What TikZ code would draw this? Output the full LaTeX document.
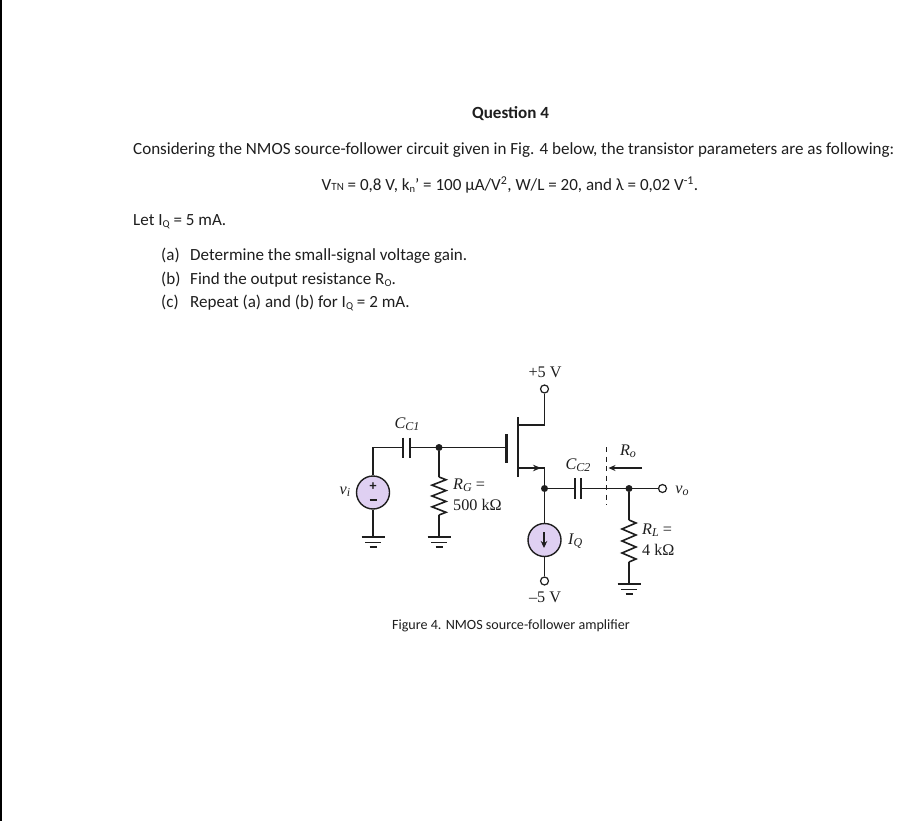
\documentclass[tikz,border=0pt]{standalone}
\usepackage{fontspec}
\setmainfont{Carlito}
\newfontfamily\ser{Liberation Serif}
\usetikzlibrary{arrows.meta}
\newcommand{\lowsub}[1]{\raisebox{-0.3ex}{\fontsize{10.5}{10.5}\selectfont #1}}
\newcommand{\smallcap}[1]{{\fontsize{11}{11}\selectfont #1}}
\newcommand{\ckit}[2]{{\ser\itshape #1\raisebox{-0.3ex}{\fontsize{12}{12}\selectfont #2}}}
\definecolor{ink}{HTML}{1E1E1E}
\definecolor{srcfill}{HTML}{DFD0F2}
\tikzset{
  txt/.style={anchor=base west,inner sep=0pt,text=ink,font=\fontsize{17.05}{20}\selectfont},
  ctxt/.style={anchor=base,inner sep=0pt,text=ink,font=\fontsize{17.05}{20}\selectfont},
  figcaption/.style={anchor=base,inner sep=0pt,text=ink,font=\fontsize{14.1}{17}\selectfont},
  clab/.style={inner sep=0pt,text=ink,font=\ser\fontsize{16.2}{19}\selectfont},
  wire/.style={draw=ink,line width=1.5pt},
  plate/.style={draw=ink,line width=2.1pt},
  res/.style={draw=ink,line width=1.6pt,line join=miter},
  dot/.style={circle,fill=ink,inner sep=0pt,minimum size=7pt},
  term/.style={circle,draw=ink,fill=white,line width=1.2pt,inner sep=0pt,minimum size=8pt},
  src/.style={circle,draw=ink,fill=srcfill,line width=1.4pt,inner sep=0pt,minimum size=33pt},
  gnd/.style={draw=ink,line width=1.8pt},
}
\begin{document}
\begin{tikzpicture}[x=1pt,y=-1pt]
\useasboundingbox (0,0) rectangle (897,821);
\fill[white] (0,0) rectangle (897,821);
\fill[black] (0,0) rectangle (2.2,821);

% Text block
\node[ctxt,font=\bfseries\fontsize{17.05}{20}\selectfont] (title) at (510.5,118.8) {Question 4};
\node[txt] (intro) at (133,154.8) {Considering the NMOS source-follower circuit given in Fig. 4 below, the transistor parameters are as following:};
\node[ctxt] (params) at (510,190.5) {V\smallcap{TN} = 0,8 V, k\lowsub{n}’ = 100 μA/V\textsuperscript{2}, W/L = 20, and λ = 0,02 V\textsuperscript{-1}.};
\node[txt] (let) at (133,225.5) {Let I\lowsub{Q} = 5 mA.};
\node[txt] (qa) at (161,260) {(a)};
\node[txt] (qat) at (190,260) {Determine the small-signal voltage gain.};
\node[txt] (qb) at (161,284) {(b)};
\node[txt] (qbt) at (190,284) {Find the output resistance R\lowsub{O}.};
\node[txt] (qc) at (161,307) {(c)};
\node[txt] (qct) at (190,307) {Repeat (a) and (b) for I\lowsub{Q} = 2 mA.};
\node[figcaption] (figcap) at (511,629) {Figure 4. NMOS source-follower amplifier};

% Named points of the circuit
\node[term] (vdd) at (544.5,389) {};
\coordinate (dcorner) at (544.5,425);
\coordinate (dch) at (518,425);
\coordinate (chtop) at (518,417);
\coordinate (chbot) at (518,477);
\coordinate (gtop) at (506.5,434);
\coordinate (gbot) at (506.5,463);
\coordinate (gin) at (506.5,447.5);
\coordinate (sch) at (518,468);
\coordinate (scorner) at (544.5,468);
\node[dot] (snode) at (544.5,488.5) {};
\node[src] (iq) at (544.5,540) {};
\node[term] (vss) at (544.5,581) {};
\node[dot] (onode) at (629,488.5) {};
\node[term] (vo) at (662.5,488.5) {};
\node[src] (vi) at (373,492.5) {};
\coordinate (vicorner) at (373,447.5);
\node[dot] (gnode) at (439,447.5) {};
\coordinate (c1a) at (403,447.5);
\coordinate (c1b) at (410,447.5);
\coordinate (c2a) at (575,488.5);
\coordinate (c2b) at (581,488.5);
\coordinate (rga) at (439,477);
\coordinate (rgb) at (439,515);
\coordinate (rla) at (629,520);
\coordinate (rlb) at (629,562);
\coordinate (g1) at (373,537);
\coordinate (g2) at (439,537);
\coordinate (g3) at (629,584);

% Wires
\draw[wire] (vdd) -- (dcorner) -- (dch);
\draw[wire] (sch) -- (scorner) -- (snode);
\draw[-{Stealth[length=8pt,width=6.5pt]},wire] (sch) -- (541,468);
\draw[wire] (snode) -- (iq);
\draw[wire] (iq) -- (vss);
\draw[wire] (snode) -- (c2a);
\draw[wire] (c2b) -- (vo);
\draw[wire] (vi) -- (vicorner) -- (c1a);
\draw[wire] (c1b) -- (gin);
\draw[wire] (vi) -- (g1);
\draw[wire] (gnode) -- (rga);
\draw[wire] (rgb) -- (g2);
\draw[wire] (onode) -- (rla);
\draw[wire] (rlb) -- (g3);
% Resistors: seven peaks between the two end points
\draw[res] (rga) -- ++(7,2.715) -- ++(-14,5.43) -- ++(14,5.43) -- ++(-14,5.43) -- ++(14,5.43) -- ++(-14,5.43) -- ++(14,5.43) -- (rgb);
\draw[res] (rla) -- ++(7,3) -- ++(-14,6) -- ++(14,6) -- ++(-14,6) -- ++(14,6) -- ++(-14,6) -- ++(14,6) -- (rlb);

% Transistor
\draw[plate,line width=2.6pt] (chtop) -- (chbot);
\draw[plate] (gtop) -- (gbot);

% Capacitor plates
\draw[plate] (403,437.5) -- (403,458);
\draw[plate] (410,437.5) -- (410,458);
\draw[plate] (575,478) -- (575,499);
\draw[plate] (581,478) -- (581,499);

% Grounds
\foreach \g in {g1,g2,g3}{
  \draw[gnd] ([xshift=-11.5pt]\g) -- ([xshift=11.5pt]\g);
  \draw[gnd] ([xshift=-8pt,yshift=-5.5pt]\g) -- ([xshift=8pt,yshift=-5.5pt]\g);
  \draw[gnd] ([xshift=-3.5pt,yshift=-10pt]\g) -- ([xshift=3.5pt,yshift=-10pt]\g);
}

% Source symbols
\node[inner sep=0pt,text=ink,font=\bfseries\fontsize{14}{14}\selectfont] (plus) at (373,487) {+};
\coordinate (minusa) at (369.5,500);
\coordinate (minusb) at (376.5,500);
\draw[draw=ink,line width=1.5pt] (minusa) -- (minusb);
\coordinate (iqa) at (544,532);
\coordinate (iqb) at (544,548);
\draw[-{Stealth[length=7pt,width=6.5pt]},draw=ink,line width=1.5pt] (iqa) -- (iqb);

% Output resistance marker
\coordinate (rotop) at (606.5,447);
\coordinate (robot) at (606.5,505);
\coordinate (rotail) at (642,468);
\coordinate (rotip) at (608.5,468);
\draw[draw=ink,line width=1pt,dash pattern=on 5pt off 4.5pt] (rotop) -- (robot);
\draw[-{Stealth[length=7pt,width=6pt]},draw=ink,line width=1.1pt] (rotail) -- (rotip);

% Circuit labels
\node[clab] (l5p) at (545,372) {+5 V};
\node[clab] (l5m) at (545,597.5) {–5 V};
\node[clab] (lc1) at (407,424) {\ckit{C}{C1}};
\node[clab] (lc2) at (578,465) {\ckit{C}{C2}};
\node[clab] (lro) at (628,451) {\ckit{R}{o}};
\node[clab] (lvi) at (345,491.5) {\ckit{v}{i}};
\node[clab] (lvo) at (682,491) {\ckit{v}{o}};
\node[clab,anchor=west] (lrg) at (453,485.5) {\ckit{R}{G} =};
\node[clab,anchor=west] (lrgv) at (453,505) {500 kΩ};
\node[clab,anchor=west] (liq) at (568,541) {\ckit{I}{Q}};
\node[clab,anchor=west] (lrl) at (642,530.5) {\ckit{R}{L} =};
\node[clab,anchor=west] (lrlv) at (642,549.5) {4 kΩ};
\end{tikzpicture}
\end{document}
